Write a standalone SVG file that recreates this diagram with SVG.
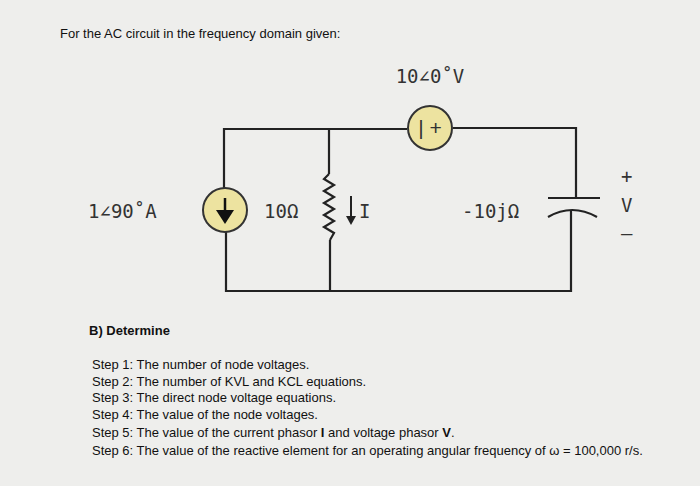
<svg xmlns="http://www.w3.org/2000/svg" width="700" height="486" viewBox="0 0 700 486">
<style>
.w{fill:none;stroke:#222;stroke-width:2.2}
.src{fill:#ede3a0;stroke:#333;stroke-width:2}
.lbl{font-family:"DejaVu Sans Mono","Liberation Mono",monospace;font-size:19px;fill:#333}
.t{font-family:"Liberation Sans",Arial,sans-serif;font-size:13px;fill:#111}
</style>
<rect width="700" height="486" fill="#eeeeec"/>
<text class="t" x="60" y="38" font-size="14">For the AC circuit in the frequency domain given:</text>
<g id="connectors">
<path class="w" d="M224,188 V129 H407 M453,128 H576 V198"/>
<path class="w" d="M226,232 V291 H571 V210"/>
<path class="w" d="M329,129 V174 M330,240 V291"/>
</g>
<g id="vsource">
<circle class="src" cx="430" cy="128" r="22"/>
<text x="430" y="135" text-anchor="middle" font-family="Liberation Sans,Arial,sans-serif" font-size="21" fill="#333">| +</text>
<text class="lbl" x="430" y="83" text-anchor="middle">10∠0˚V</text>
</g>
<g id="isource">
<circle class="src" cx="225" cy="210" r="22"/>
<path d="M225,198 V214" stroke="#111" stroke-width="2.5"/>
<path d="M216,210 H234 L225,224 Z" fill="#111"/>
<text class="lbl" x="88" y="218">1∠90˚A</text>
</g>
<g id="resistor">
<path class="w" stroke-width="1.6" d="M329,174 L324,179 L334,185 L324,191 L334,197 L324,203 L334,209 L324,215 L334,221 L324,227 L334,233 L330,240"/>
<text class="lbl" x="264" y="218">10Ω</text>
<path d="M351,196 V222" stroke="#222" stroke-width="2"/>
<path d="M346,216 L351,225 L356,216 Z" fill="#222"/>
<text class="lbl" x="359" y="218">I</text>
</g>
<g id="capacitor">
<path class="w" d="M548,198 H600"/>
<path class="w" d="M548,217 Q572,203 597,217"/>
<text class="lbl" x="462" y="218">-10jΩ</text>
<text class="lbl" x="621" y="183">+</text>
<text class="lbl" x="621" y="212">V</text>
<text class="lbl" x="621" y="240">–</text>
</g>
<g class="t">
<text x="89" y="335" font-weight="bold">B) Determine</text>
<text x="92" y="369">Step 1: The number of node voltages.</text>
<text x="92" y="386">Step 2: The number of KVL and KCL equations.</text>
<text x="92" y="402">Step 3: The direct node voltage equations.</text>
<text x="92" y="419">Step 4: The value of the node voltages.</text>
<text x="92" y="437">Step 5: The value of the current phasor <tspan font-weight="bold">I</tspan> and voltage phasor <tspan font-weight="bold">V</tspan>.</text>
<text x="92" y="455">Step 6: The value of the reactive element for an operating angular frequency of ω = 100,000 r/s.</text>
</g>
</svg>
